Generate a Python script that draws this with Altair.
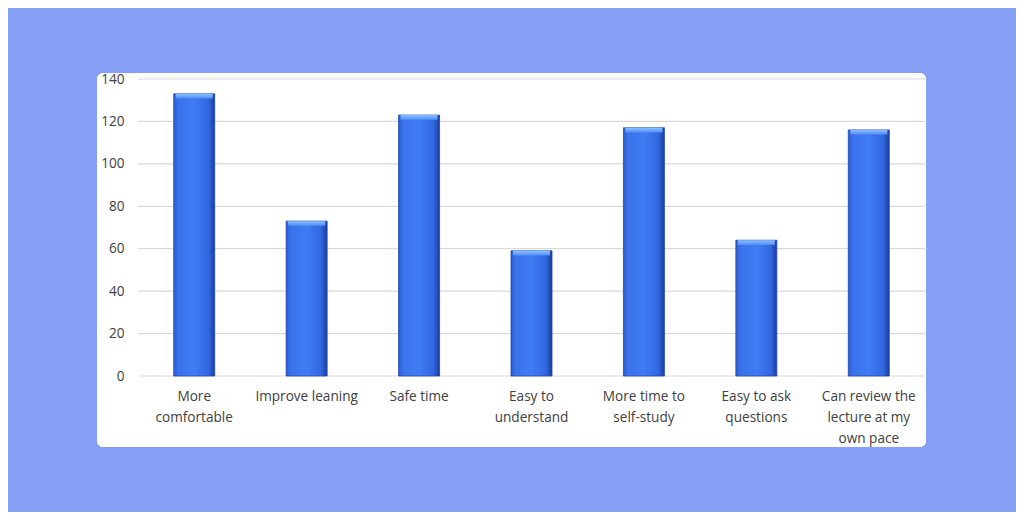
import altair as alt
import pandas as pd

categories = [
    "More\ncomfortable",
    "Improve leaning",
    "Safe time",
    "Easy to\nunderstand",
    "More time to\nself-study",
    "Easy to ask\nquestions",
    "Can review the\nlecture at my\nown pace",
]
values = [133, 73, 123, 59, 117, 64, 116]
y_ticks = [0, 20, 40, 60, 80, 100, 120, 140]

W, H = 787, 297

df = pd.DataFrame({"category": categories, "value": values})
grid_df = pd.DataFrame({"tick": y_ticks})

x_enc = alt.X(
    "category:N",
    sort=categories,
    scale=alt.Scale(paddingInner=0, paddingOuter=0),
    axis=alt.Axis(
        title=None,
        labelAngle=0,
        domain=False,
        ticks=False,
        grid=False,
        labelExpr="split(datum.label, '\\n')",
        labelBaseline="top",
        labelPadding=13,
        labelLineHeight=21,
        labelFont="Open Sans",
        labelFontSize=13.6,
        labelColor="#404040",
        zindex=1,
    ),
)
y_scale = alt.Scale(domain=[0, 140], nice=False)
y_axis = alt.Axis(
    title=None,
    values=y_ticks,
    domain=False,
    ticks=False,
    grid=False,
    labelPadding=14,
    labelFont="Open Sans",
    labelFontSize=13.6,
    labelColor="#404040",
    zindex=1,
)

panel = alt.Chart(df).mark_rect(
    fill="white", cornerRadius=7, clip=False
).encode(
    x=alt.value(-41), x2=alt.value(W + 1),
    y=alt.value(-6), y2=alt.value(H + 71),
)

grid = alt.Chart(grid_df).mark_rule(color="#d9d9d9", strokeWidth=1.2).encode(
    y=alt.Y("tick:Q", scale=y_scale, axis=y_axis),
    x=alt.value(0), x2=alt.value(W),
)

bars = alt.Chart(df).mark_bar(
    size=41,
    color={
        "gradient": "linear",
        "x1": 0, "x2": 1, "y1": 0, "y2": 0,
        "stops": [
            {"offset": 0, "color": "#2a5cd3"},
            {"offset": 0.12, "color": "#3a73ec"},
            {"offset": 0.5, "color": "#3f7cf4"},
            {"offset": 0.85, "color": "#3168e0"},
            {"offset": 1, "color": "#1b3c9f"},
        ],
    },
    stroke="#1f45b0",
    strokeWidth=0.8,
).encode(
    x=x_enc,
    y=alt.Y("value:Q", scale=y_scale, axis=y_axis),
)

caps = alt.Chart(df).transform_calculate(
    cap="datum.value - 2.2"
).mark_bar(
    size=37,
    color={
        "gradient": "linear",
        "x1": 0, "x2": 0, "y1": 0, "y2": 1,
        "stops": [
            {"offset": 0, "color": "#8cc0ff"},
            {"offset": 1, "color": "#4f8ef7"},
        ],
    },
).encode(
    x=alt.X("category:N", sort=categories),
    y=alt.Y("value:Q", scale=y_scale),
    y2="cap:Q",
)

chart = alt.layer(panel, grid, bars, caps).properties(
    width=W,
    height=H,
    background="#859ff5",
    padding={"left": 130, "top": 71, "right": 91, "bottom": 136},
    autosize=alt.AutoSizeParams(type="none"),
).configure_view(stroke=None)

chart.save("out.html", embed_options={"renderer": "svg", "actions": False})
